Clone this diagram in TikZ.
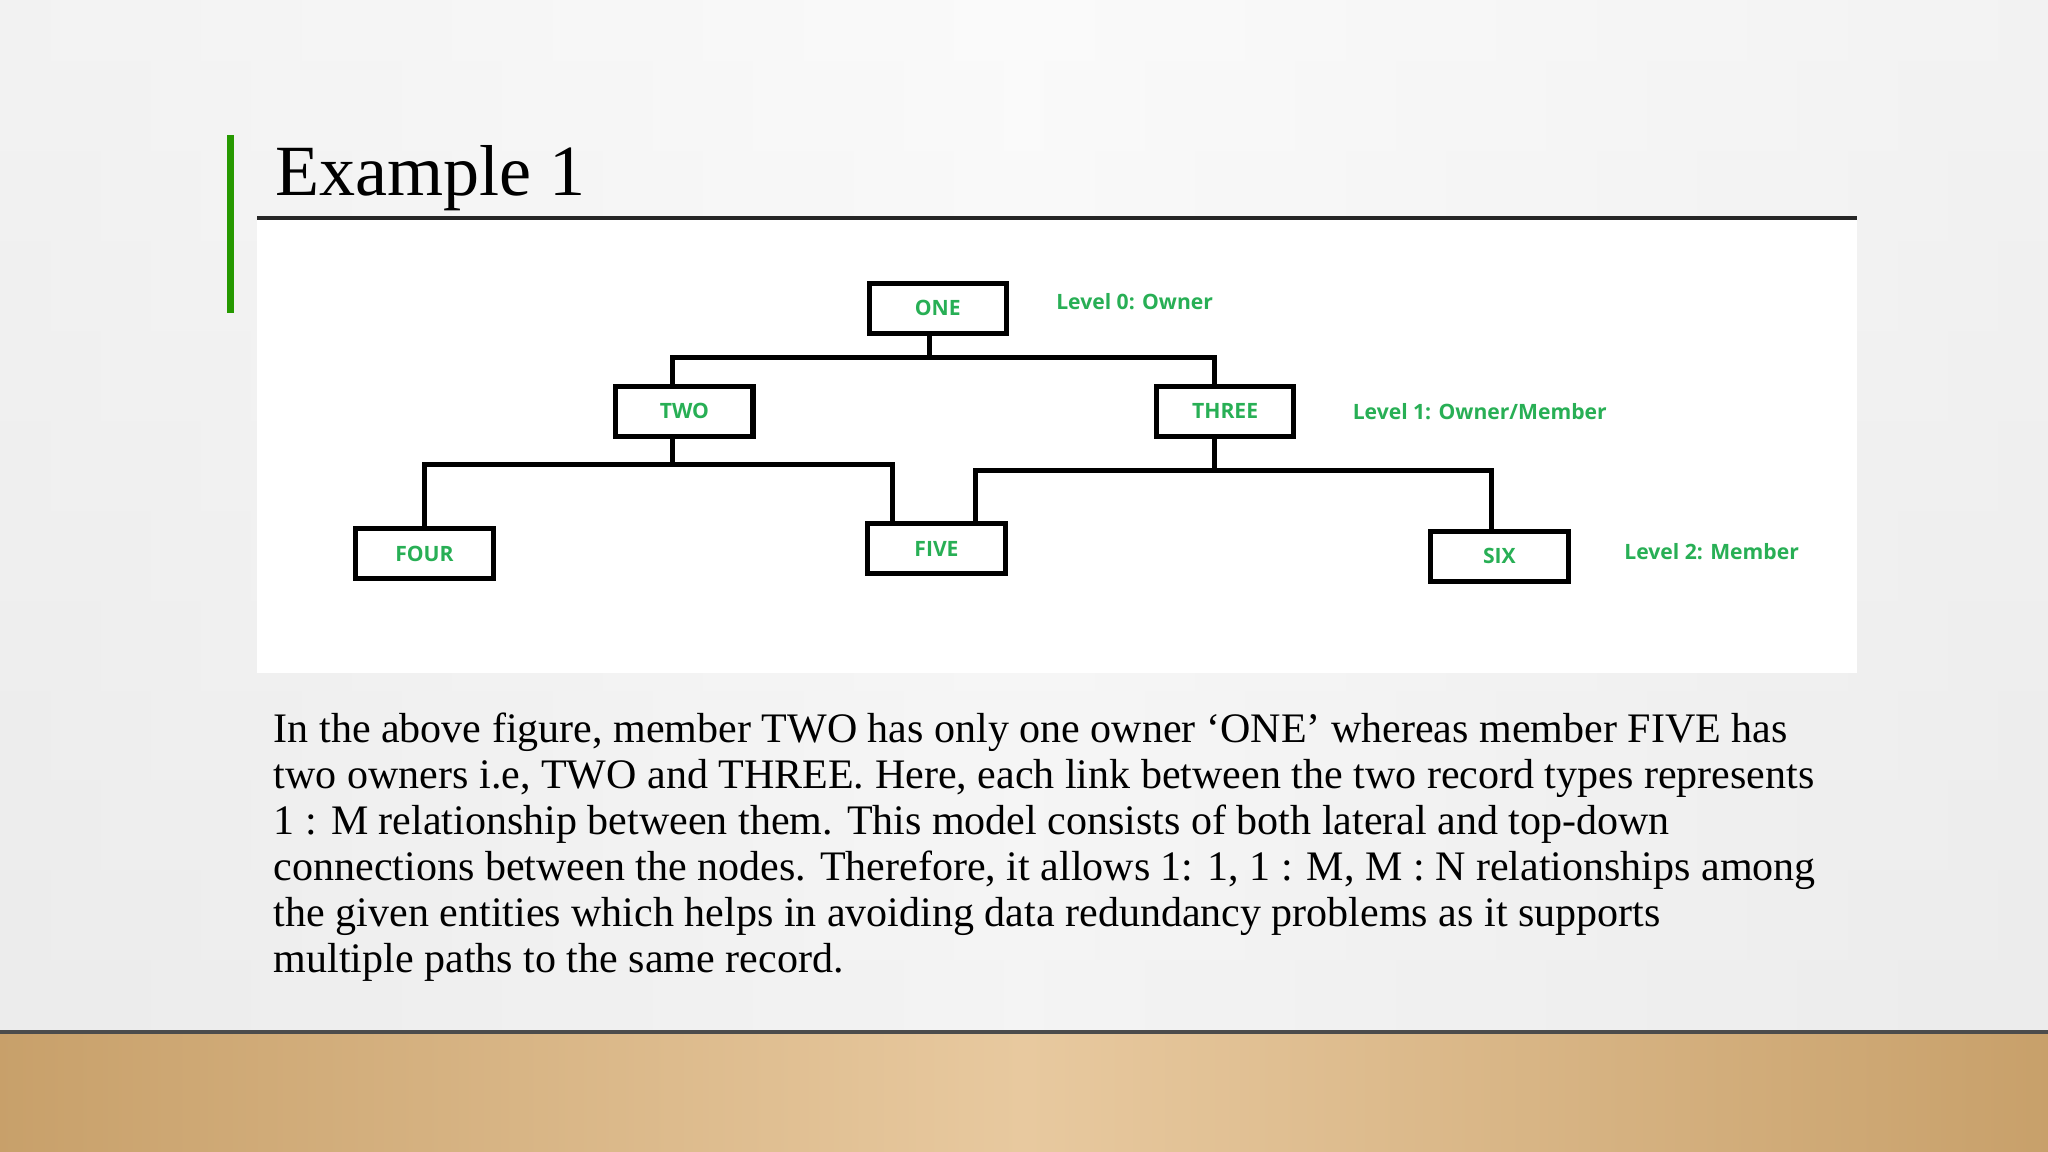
\documentclass[tikz,border=0pt]{standalone}
\usepackage{fontspec}
\setmainfont{Liberation Serif}
\newfontfamily\dsans{Open Sans}
\begin{document}
\begin{tikzpicture}[x=0.01cm,y=-0.01cm,
  box/.style={draw=black,line width=1.1pt,minimum width=1.05cm,minimum height=0.38cm,inner sep=0pt,font=\dsans\bfseries\fontsize{4.6}{5}\selectfont,text=lvgreen},
  lvl/.style={anchor=west,inner sep=0pt,font=\dsans\bfseries\fontsize{4.6}{5}\selectfont,text=lvgreen},
  link/.style={line width=1.1pt}]
\definecolor{lvgreen}{RGB}{40,175,85}
\definecolor{wood}{RGB}{222,178,118}
\useasboundingbox (0,0) rectangle (1568,882);
\shade[left color=gray!20,right color=gray!20,middle color=white!96!gray] (0,0) rectangle (1568,790);
\shade[top color=white!97!gray,bottom color=gray!12,opacity=0.6] (0,0) rectangle (1568,790);
\shade[left color=wood!90!black,right color=wood!90!black,middle color=wood!70!white] (0,790) rectangle (1568,882);
\draw[line width=1pt,black!70] (0,790) -- (1568,790);
\fill[green!50!black!80!lime] (174,103) rectangle (179,240);
\node[anchor=base west,inner sep=0pt,font=\fontsize{15.7}{18}\selectfont] (title) at (210,150) {Example 1};
\fill[white] (197,168) rectangle (1422,515);
\draw[line width=0.9pt,black!85] (197,167) -- (1422,167);
\node[box] (one) at (718,236) {ONE};
\node[box] (two) at (524,315) {TWO};
\node[box] (three) at (938,315) {THREE};
\node[box] (four) at (325,424) {FOUR};
\node[box] (five) at (717,420) {FIVE};
\node[box] (six) at (1148,426) {SIX};
\node[lvl] (l0) at (808,231) {Level 0: Owner};
\node[lvl] (l1) at (1035,315) {Level 1: Owner/Member};
\node[lvl] (l2) at (1243,422) {Level 2: Member};
\draw[link] ([xshift=-0.06cm]one.south) -- ++(0,17) coordinate (j1);
\draw[link] ([xshift=-0.09cm]two.north) |- (j1) -| ([xshift=-0.08cm]three.north);
\draw[link] ([xshift=-0.09cm]two.south) -- ++(0,20) coordinate (j2);
\draw[link] (four.north) |- (j2) -| ([xshift=-0.34cm]five.north);
\draw[link] ([xshift=-0.08cm]three.south) -- ++(0,24) coordinate (j3);
\draw[link] ([xshift=0.30cm]five.north) |- (j3) -| ([xshift=-0.06cm]six.north);
\node[anchor=north west,inner sep=0pt,align=left,font=\fontsize{9.15}{10}\selectfont] (txt) at (209,545)
{In the above figure, member TWO has only one owner ‘ONE’ whereas member FIVE has\\
two owners i.e, TWO and THREE. Here, each link between the two record types represents\\
1 : M relationship between them. This model consists of both lateral and top-down\\
connections between the nodes. Therefore, it allows 1: 1, 1 : M, M : N relationships among\\
the given entities which helps in avoiding data redundancy problems as it supports\\
multiple paths to the same record.};
\end{tikzpicture}
\end{document}
